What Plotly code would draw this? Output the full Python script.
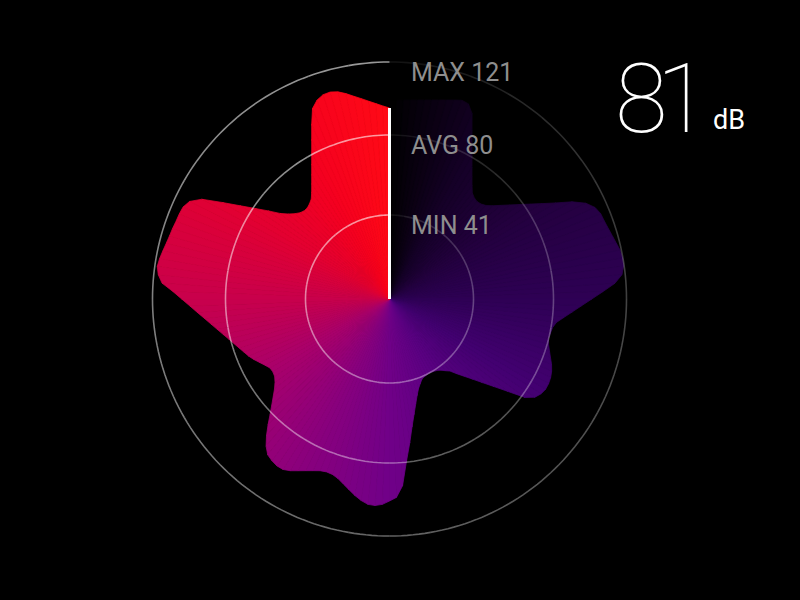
import numpy as np
import plotly.graph_objects as go

# sweep direction (deg, clockwise from 12 o'clock) and level read at each
angle_deg = list(range(0, 361, 2))
level = [199, 199.1, 199.5, 200.1, 201, 202.1, 203.5, 205.1, 207, 209.2,
         211.5, 210.5, 203, 188.2, 175.7, 165, 155.7, 147.5, 140.4, 134.5,
         132, 131, 132, 134.5, 139.4, 145.7, 152.8, 160.8, 169.7, 180,
         192.2, 207, 218.5, 225, 227.8, 228.5, 229.8, 231.5, 233.4, 235.7,
         236.5, 236.3, 233.8, 226, 213.7, 202.3, 192.2, 183.4, 175.5, 168.5,
         165.5, 164.5, 163.9, 165.4, 168.2, 171.3, 174.8, 177.5, 179.3, 180.2,
         180.3, 178.8, 175.5, 167.5, 150, 136.1, 124.8, 115.3, 107.3, 100.5,
         94, 91, 88, 86, 85, 84.3, 84, 84.5, 85.3, 86.5,
         90, 94, 100.2, 108.3, 118, 129.8, 145.4, 162.9, 187.2, 198.5,
         202, 205.5, 207, 206.5, 203.5, 199.5, 194.9, 190.7, 186.8, 184.5,
         184, 185.2, 187.9, 191, 194.5, 198.3, 201, 201.3, 200, 197.8,
         192, 183.8, 174.8, 166, 158.4, 151.8, 145.9, 141.5, 138.5, 137.5,
         138, 141, 144.6, 148.6, 152.1, 155, 158.2, 161.8, 165.7, 170.1,
         174.9, 180.2, 186, 192.6, 199.7, 207.8, 216.8, 228, 232.5, 234.5,
         233.4, 231.7, 230.1, 228.9, 228.1, 227.2, 226.8, 226, 222.5, 212.5,
         193, 175.9, 161.8, 149.9, 139, 132.2, 127.5, 124.2, 122.6, 122.7,
         124.4, 127, 132.4, 139.1, 146.8, 155.6, 165.7, 177.5, 191.3, 205.5,
         211.7, 214.8, 215.3, 213.5, 210, 205.9, 202.3, 198.9, 195.9, 193.2,
         191]

# reference rings and their readings
ring_level = [84, 164, 237]
ring_name = ["MIN", "AVG", "MAX"]
ring_db = [41, 80, 121]
current_db = 81

# ── style ────────────────────────────────────────────────────
R_MAX = 245
CX, CY = 389.5, 299          # centre of the dial in px (from top-left)
W, H = 800, 600

# conic gradient: angle -> rgb
grad_ang = [0, 10, 30, 60, 90, 120, 150, 180, 210, 240, 270, 300, 330, 360]
grad_rgb = [(0, 0, 0), (8, 0, 14), (22, 0, 40), (36, 0, 64), (46, 0, 84),
            (66, 0, 112), (90, 0, 130), (112, 0, 136), (140, 0, 124),
            (170, 0, 106), (200, 0, 76), (226, 0, 50), (244, 0, 32),
            (255, 10, 22)]


def grad(a):
    c = [np.interp(a, grad_ang, [g[i] for g in grad_rgb]) for i in range(3)]
    return "rgb(%d,%d,%d)" % tuple(int(round(v)) for v in c)


def ring_alpha(a):
    return 0.05 + 0.55 * (a / 360) ** 0.7


fig = go.Figure()

# filled wedges, one per step, coloured by direction
for i in range(len(angle_deg) - 1):
    a0, a1 = angle_deg[i], angle_deg[i + 1]
    col = grad((a0 + a1) / 2)
    fig.add_trace(go.Scatterpolar(
        r=[0, level[i], level[i + 1], 0], theta=[a0, a0, a1, a1],
        mode="lines", fill="toself", fillcolor=col,
        line=dict(color=col, width=0.8), hoverinfo="skip", showlegend=False))

# rings, fading towards the sweep line
for rl in ring_level:
    for k in range(36):
        th = np.linspace(k * 10, k * 10 + 10, 8)
        fig.add_trace(go.Scatterpolar(
            r=[rl] * len(th), theta=th, mode="lines",
            line=dict(color="rgba(255,255,255,%.3f)" % ring_alpha(k * 10 + 5), width=1.6),
            hoverinfo="skip", showlegend=False))

# sweep needle
fig.add_trace(go.Scatterpolar(
    r=[0, level[-1]], theta=[angle_deg[-1], angle_deg[-1]], mode="lines",
    line=dict(color="white", width=3), hoverinfo="skip", showlegend=False))

# ring labels
for rl, nm, v in zip(ring_level, ring_name, ring_db):
    fig.add_annotation(
        x=409 / W, y=1 - (CY - rl + 10) / H, xref="paper", yref="paper",
        text="%s %d" % (nm, v), showarrow=False, xanchor="left", yanchor="middle",
        font=dict(family="Roboto", size=25, color="#8e8e8e"))

# big readout
fig.add_annotation(
    x=613 / W, y=1 - 98.5 / H, xref="paper", yref="paper",
    text='<span style="letter-spacing:-11px">%d</span>' % current_db,
    showarrow=False, xanchor="left", yanchor="middle",
    font=dict(family="Roboto", size=96, color="white", weight=100))
fig.add_annotation(
    x=711 / W, y=1 - 120 / H, xref="paper", yref="paper", text="dB",
    showarrow=False, xanchor="left", yanchor="middle",
    font=dict(family="Roboto", size=27, color="white", weight=400))

fig.update_layout(
    width=W, height=H, margin=dict(l=0, r=0, t=0, b=0),
    paper_bgcolor="black", plot_bgcolor="black",
    polar=dict(
        domain=dict(x=[(CX - R_MAX) / W, (CX + R_MAX) / W],
                    y=[1 - (CY + R_MAX) / H, 1 - (CY - R_MAX) / H]),
        bgcolor="black",
        radialaxis=dict(visible=False, range=[0, R_MAX]),
        angularaxis=dict(visible=False, rotation=90, direction="clockwise"),
    ),
    showlegend=False,
)

fig.write_html("out.html", config={"displayModeBar": False},
               post_script="document.body.style.margin='0';"
                           "document.body.style.background='black';")
